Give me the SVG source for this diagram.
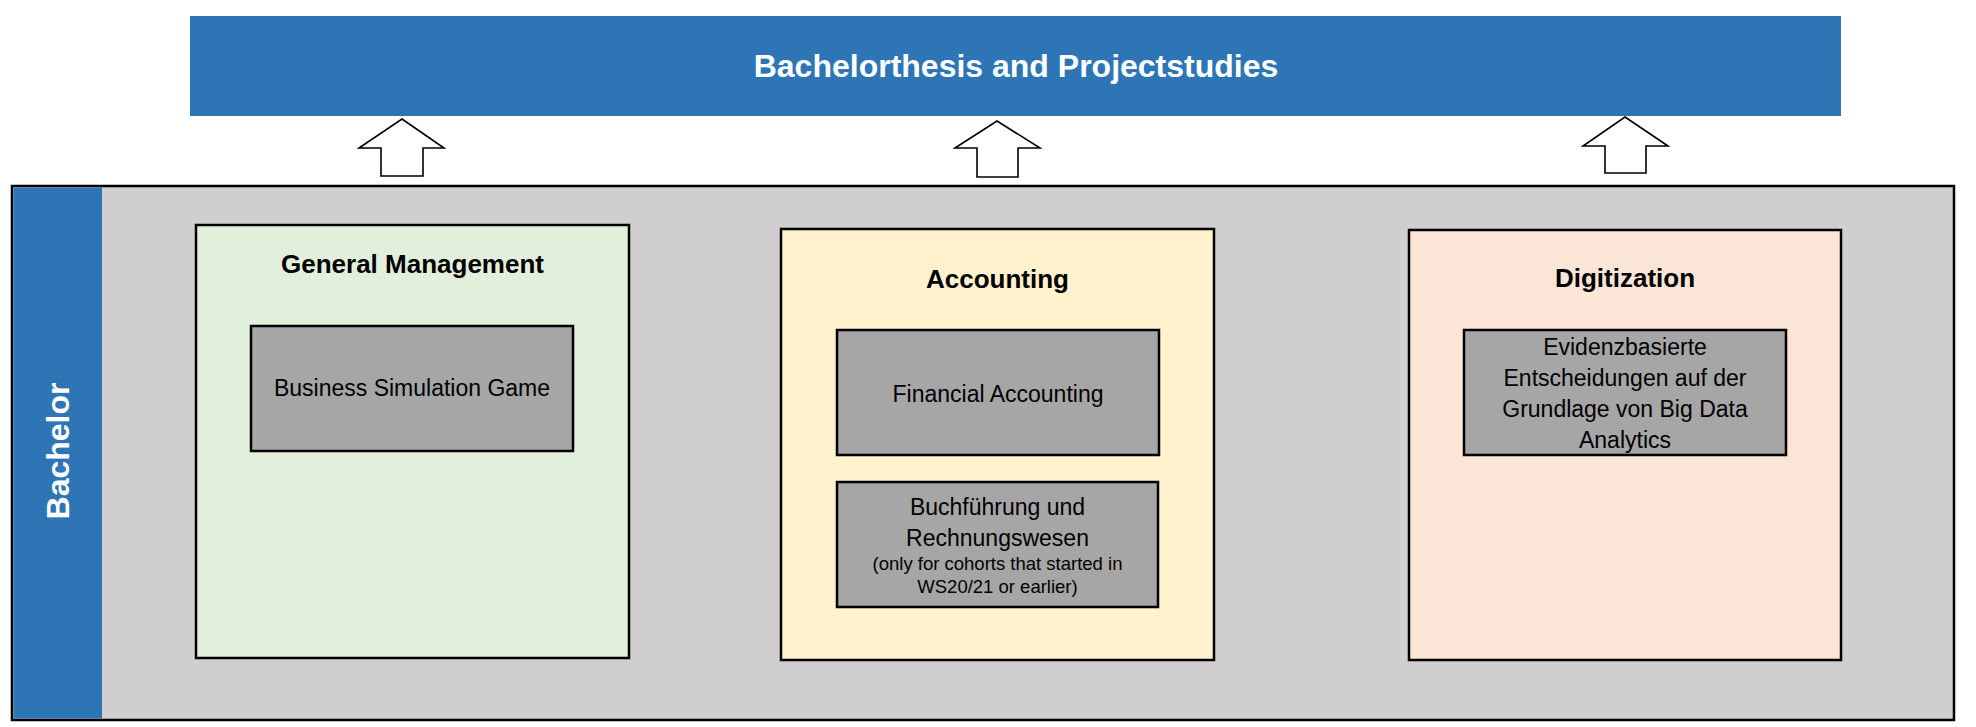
<svg xmlns="http://www.w3.org/2000/svg" width="1976" height="727" viewBox="0 0 1976 727">
<style>
  .title { font-family: "Liberation Sans", Arial, sans-serif; font-weight: bold; font-size: 26px; fill: #000; text-anchor: middle; }
  .white { font-family: "Liberation Sans", Arial, sans-serif; font-weight: bold; fill: #fff; text-anchor: middle; }
  .lbl { font-family: "Liberation Sans", Arial, sans-serif; font-size: 23px; fill: #000; text-anchor: middle; }
  .small { font-family: "Liberation Sans", Arial, sans-serif; font-size: 18.5px; fill: #000; text-anchor: middle; }
  .box { stroke: #000; stroke-width: 2.5; }
  .inner { fill: #A6A6A6; stroke: #000; stroke-width: 2.5; }
  .arrow { fill: #fff; stroke: #000; stroke-width: 1.6; stroke-linejoin: miter; }
</style>
<rect width="1976" height="727" fill="#fff"/>

<g id="top-bar">
  <rect x="190" y="16" width="1651" height="100" fill="#2E75B6"/>
  <text class="white" x="1016" y="77" font-size="32">Bachelorthesis and Projectstudies</text>
</g>

<g id="connectors">
  <path class="arrow" d="M402,119 L444,148 L423,148 L423,176 L381,176 L381,148 L359,148 Z"/>
  <path class="arrow" d="M997,121 L1040,148 L1018,148 L1018,177 L977,177 L977,148 L955,148 Z"/>
  <path class="arrow" d="M1625,117 L1668,146 L1646,146 L1646,173 L1605,173 L1605,146 L1583,146 Z"/>
</g>

<g id="bachelor">
  <rect x="12" y="186" width="1942" height="534" fill="#D0CECE" stroke="#000" stroke-width="2.5"/>
  <rect x="13.5" y="187.5" width="88.5" height="531" fill="#2E75B6"/>
  <text class="white" font-size="32" transform="translate(68.5,451) rotate(-90)">Bachelor</text>
</g>

<g id="general-management">
  <rect class="box" x="196" y="225" width="433" height="433" fill="#E2EFDA"/>
  <text class="title" x="412.5" y="273">General Management</text>
</g>
<g id="business-simulation-game">
  <rect class="inner" x="251" y="326" width="322" height="125"/>
  <text class="lbl" x="412" y="396">Business Simulation Game</text>
</g>

<g id="accounting">
  <rect class="box" x="781" y="229" width="433" height="431" fill="#FFF2CC"/>
  <text class="title" x="997.5" y="288">Accounting</text>
</g>
<g id="financial-accounting">
  <rect class="inner" x="837" y="330" width="322" height="125"/>
  <text class="lbl" x="998" y="402">Financial Accounting</text>
</g>
<g id="buchfuehrung">
  <rect class="inner" x="837" y="482" width="321" height="125"/>
  <text class="lbl" x="997.5" y="515">Buchführung und</text>
  <text class="lbl" x="997.5" y="546">Rechnungswesen</text>
  <text class="small" x="997.5" y="570">(only for cohorts that started in</text>
  <text class="small" x="997.5" y="593">WS20/21 or earlier)</text>
</g>

<g id="digitization">
  <rect class="box" x="1409" y="230" width="432" height="430" fill="#FBE5D6"/>
  <text class="title" x="1625" y="287">Digitization</text>
</g>
<g id="evidenzbasierte">
  <rect class="inner" x="1464" y="330" width="322" height="125"/>
  <text class="lbl" x="1625" y="355">Evidenzbasierte</text>
  <text class="lbl" x="1625" y="386">Entscheidungen auf der</text>
  <text class="lbl" x="1625" y="417">Grundlage von Big Data</text>
  <text class="lbl" x="1625" y="448">Analytics</text>
</g>
</svg>
